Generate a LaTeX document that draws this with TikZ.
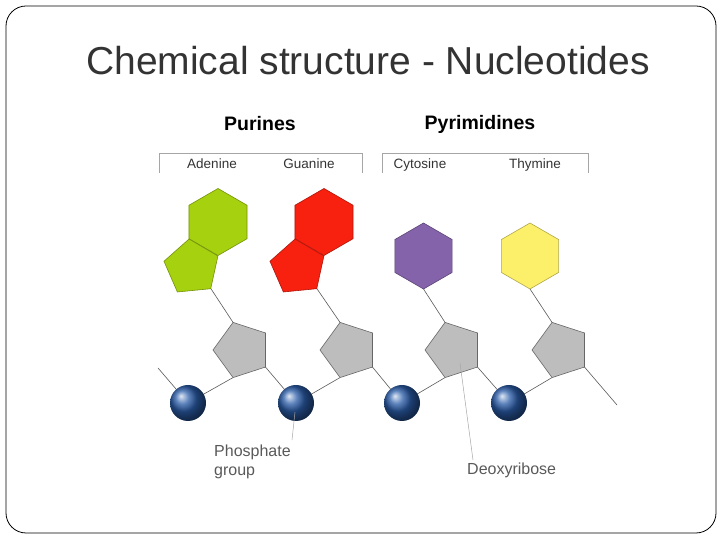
\documentclass[tikz,border=0pt]{standalone}
\usepackage{fontspec}
\setmainfont{Liberation Sans}
\usetikzlibrary{shapes.geometric,backgrounds}
\definecolor{cgreen}{HTML}{A6D10E}
\definecolor{cred}{HTML}{F8200F}
\definecolor{cpurple}{HTML}{8563AA}
\definecolor{cyellow}{HTML}{FCEF6A}
\definecolor{cgray}{HTML}{BDBDBD}
\definecolor{ctext}{HTML}{333333}
\definecolor{cblue}{HTML}{2A5CA8}
\tikzset{
  hexa/.style={regular polygon,regular polygon sides=6,shape border rotate=30,minimum size=67pt,inner sep=0pt,outer sep=0pt,draw=#1!70!black,line width=0.6pt,fill=#1},
  penta/.style={regular polygon,regular polygon sides=5,shape border rotate=5.6,minimum size=57pt,inner sep=0pt,outer sep=0pt,draw=#1!70!black,line width=0.6pt,fill=#1},
  sugar/.style={regular polygon,regular polygon sides=5,shape border rotate=90,minimum size=58pt,inner sep=0pt,outer sep=0pt,fill=cgray,draw=gray!80!black,line width=0.6pt},
  phos/.style={circle,minimum size=36pt,inner sep=0pt,shading=ball,ball color=cblue},
  bond/.style={draw=gray!70!black,line width=0.6pt},
  bracket/.style={draw=gray!70,line width=0.8pt},
  small/.style={font=\fontsize{13.5}{15}\selectfont,text=ctext},
  big/.style={font=\fontsize{19.5}{22}\selectfont\bfseries,text=black},
  lab/.style={font=\fontsize{16}{19}\selectfont,text=gray!70!black,align=left}
}
\begin{document}
\begin{tikzpicture}[x=1pt,y=1pt]
\useasboundingbox (0,0) rectangle (720,540);
\draw[rounded corners=20pt,line width=0.8pt] (6,7) rectangle (716,534);
\node[font=\fontsize{39}{44}\selectfont,text=ctext] (title) at (368,479) {Chemical structure - Nucleotides};
\node[big] (pur) at (260,416) {Purines};
\node[big] (pyr) at (480,416) {Pyrimidines};
\draw[bracket] (159,367) -- (159,387) -- (362,387) -- (362,367);
\draw[bracket] (382,367) -- (382,387) -- (588,387) -- (588,367);
\node[small] (ade) at (212,376) {Adenine};
\node[small] (gua) at (309,376) {Guanine};
\node[small] (cyt) at (420,375) {Cytosine};
\node[small] (thy) at (535,375) {Thymine};
% bases
\node[hexa=cgreen] (hA) at (218,318) {};
\node[penta=cgreen] (pA) at (191.8,272.6) {};
\node[hexa=cred] (hG) at (324,318) {};
\node[penta=cred] (pG) at (297.8,272.6) {};
\node[hexa=cpurple,minimum size=66pt] (hC) at (423.5,284) {};
\node[hexa=cyellow,minimum size=66pt] (hT) at (530,284) {};
% sugars
\node[sugar] (s1) at (242,190) {};
\node[sugar] (s2) at (349,190) {};
\node[sugar] (s3) at (454,190) {};
\node[sugar] (s4) at (561,190) {};
% phosphates
\node[phos] (b1) at (188,137) {};
\node[phos] (b2) at (296,137) {};
\node[phos] (b3) at (402,137) {};
\node[phos] (b4) at (509,137) {};
\coordinate (lft) at (158,172);
\coordinate (rgt) at (617,135);
\begin{pgfonlayer}{background}
\draw[bond] (pA.-48.4) -- (s1.108);
\draw[bond] (pG.-48.4) -- (s2.108);
\draw[bond] (hC.-90) -- (s3.108);
\draw[bond] (hT.-90) -- (s4.108);
\draw[bond] (lft) -- (b1.center);
\draw[bond] (s1.-108) -- (b1.center);
\draw[bond] (s2.-108) -- (b2.center);
\draw[bond] (s3.-108) -- (b3.center);
\draw[bond] (s4.-108) -- (b4.center);
\draw[bond] (s1.-36) -- (b2.center);
\draw[bond] (s2.-36) -- (b3.center);
\draw[bond] (s3.-36) -- (b4.center);
\draw[bond] (s4.-36) -- (rgt);
\end{pgfonlayer}
% labels
\node[lab,anchor=north west,inner sep=0pt] (phl) at (214,95) {Phosphate\\group};
\node[lab,anchor=north west,inner sep=0pt] (dxl) at (467,77) {Deoxyribose};
\coordinate (dxp) at (460,177);
\draw[line width=0.5pt,gray!70] (292,100) -- (295,128);
\draw[line width=0.5pt,gray!70] (473,80) -- (dxp);
\end{tikzpicture}
\end{document}
